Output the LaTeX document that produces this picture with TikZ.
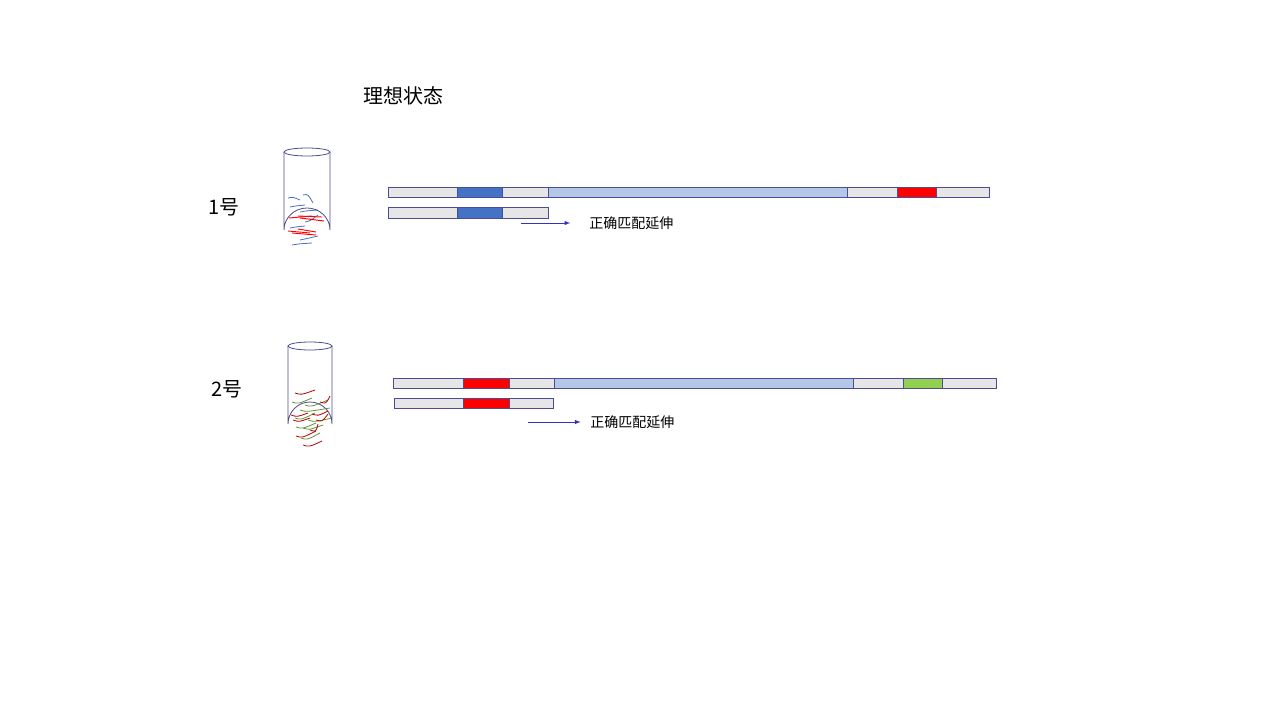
\documentclass[tikz,border=0pt]{standalone}
\usepackage{fontspec}
\setmainfont{Noto Sans CJK SC}
\begin{document}
\begin{tikzpicture}[x=0.75pt,y=-0.75pt,
 seg/.style={draw=black!60!blue!70,line width=0.5pt},
 tube/.style={draw=blue!40!black!70,line width=0.6pt},
 lbl/.style={font=\fontsize{15}{18}\selectfont,inner sep=0pt},
 small/.style={font=\fontsize{10.5}{12}\selectfont,inner sep=0pt,anchor=west},
 arr/.style={draw=blue!70!black!80,-latex,line width=0.5pt}]
\definecolor{gr}{HTML}{E7E6E6}\definecolor{db}{HTML}{4472C4}\definecolor{lb}{HTML}{B4C7E7}
\definecolor{rd}{HTML}{FF0000}\definecolor{gn}{HTML}{92D050}
\useasboundingbox (0,0) rectangle (1280,720);
\node[lbl] (title) at (403,96) {理想状态};
\node[lbl] (l1) at (224,207) {1号};
\node[lbl] (l2) at (227,389) {2号};
% tube 1
\draw[tube] (284,152) -- (284,230) arc[start angle=180,end angle=360,x radius=23,y radius=22] -- (330,152);
\draw[tube] (307,152) ellipse[x radius=23,y radius=4];
\foreach \a/\b/\c/\d in {288/198/300/200, 303/195/313/203, 290/207/305/205, 300/212/318/210, 305/222/318/215, 290/228/305/226, 300/240/318/236, 292/245/312/243}
 \draw[db,line width=0.6pt] (\a,\b) .. controls (\a+5,\b-1) .. (\c,\d);
\foreach \a/\b/\c/\d in {289/218/312/216, 298/216/322/217, 300/218/324/221, 288/231/310/233, 298/229/316/232, 292/233/316/235}
 \draw[rd,line width=0.7pt] (\a,\b) -- (\c,\d);
% tube 2
\draw[tube] (288,346) -- (288,424) arc[start angle=180,end angle=360,x radius=22,y radius=22] -- (332,346);
\draw[tube] (310,346) ellipse[x radius=22,y radius=4];
\foreach \a/\b/\c/\d in {292/402/312/398, 305/405/328/400, 300/410/330/408, 295/418/315/413, 308/420/332/418, 296/427/316/423, 303/428/323/425, 301/438/320/433}
 \draw[gn!70!black,line width=0.6pt] (\a,\b) .. controls (\a+6,\b+2) .. (\c,\d);
\foreach \a/\b/\c/\d in {295/393/315/390, 320/402/330/396, 312/414/328/411, 291/415/308/413, 316/420/328/414, 293/420/310/418, 296/436/316/431, 310/430/318/424, 303/445/322/441}
 \draw[rd!70!black,line width=0.6pt] (\a,\b) .. controls (\a+6,\b+2) .. (\c,\d);
% row 1
\foreach \x/\y/\c in {388/457/gr,457/502/db,502/548/gr,548/847/lb,847/897/gr,897/936/rd,936/989/gr}
 \path[seg,fill=\c] (\x,187) rectangle (\y,197);
\foreach \x/\y/\c in {388/457/gr,457/502/db,502/548/gr}
 \path[seg,fill=\c] (\x,207) rectangle (\y,218);
\coordinate (a1) at (521,223);
\node[small] (t1) at (589,223) {正确匹配延伸};
\draw[arr] (a1) -- ([xshift=-14pt]t1.west);
% row 2
\foreach \x/\y/\c in {393/463/gr,463/509/rd,509/554/gr,554/853/lb,853/903/gr,903/942/gn,942/996/gr}
 \path[seg,fill=\c] (\x,378) rectangle (\y,388);
\foreach \x/\y/\c in {394/463/gr,463/509/rd,509/553/gr}
 \path[seg,fill=\c] (\x,398) rectangle (\y,408);
\coordinate (a2) at (528,422);
\node[small] (t2) at (590,422) {正确匹配延伸};
\draw[arr] (a2) -- ([xshift=-7pt]t2.west);
\end{tikzpicture}
\end{document}
